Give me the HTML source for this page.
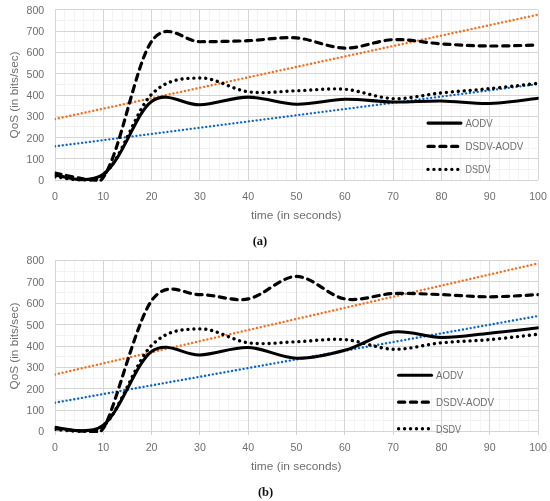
<!DOCTYPE html>
<html><head><meta charset="utf-8"><title>QoS</title>
<style>
html,body{margin:0;padding:0;background:#fff;}
svg{display:block;}
.t{font-family:"Liberation Sans",sans-serif;font-size:10.6px;fill:#6e6e6e;}
.at{font-family:"Liberation Sans",sans-serif;font-size:11.8px;fill:#6e6e6e;}
.cap{font-family:"Liberation Serif",serif;font-size:12.5px;font-weight:bold;fill:#111;}
.g1{stroke:#d6d6d6;stroke-width:1;fill:none;shape-rendering:crispEdges;}
.g2{stroke:#f3f3f3;stroke-width:1;fill:none;shape-rendering:crispEdges;}
.k{stroke:#000;stroke-width:3.4;fill:none;stroke-linecap:round;stroke-linejoin:round;}
</style></head><body>
<svg width="550" height="501" viewBox="0 0 550 501">
<rect width="550" height="501" fill="#fff"/>

<g>
<path class="g2" d="M55.00,169.55H538.00M55.00,148.25H538.00M55.00,126.95H538.00M55.00,105.65H538.00M55.00,84.35H538.00M55.00,63.05H538.00M55.00,41.75H538.00M55.00,20.45H538.00M64.66,180.20V9.80M74.32,180.20V9.80M83.98,180.20V9.80M93.64,180.20V9.80M112.96,180.20V9.80M122.62,180.20V9.80M132.28,180.20V9.80M141.94,180.20V9.80M161.26,180.20V9.80M170.92,180.20V9.80M180.58,180.20V9.80M190.24,180.20V9.80M209.56,180.20V9.80M219.22,180.20V9.80M228.88,180.20V9.80M238.54,180.20V9.80M257.86,180.20V9.80M267.52,180.20V9.80M277.18,180.20V9.80M286.84,180.20V9.80M306.16,180.20V9.80M315.82,180.20V9.80M325.48,180.20V9.80M335.14,180.20V9.80M354.46,180.20V9.80M364.12,180.20V9.80M373.78,180.20V9.80M383.44,180.20V9.80M402.76,180.20V9.80M412.42,180.20V9.80M422.08,180.20V9.80M431.74,180.20V9.80M451.06,180.20V9.80M460.72,180.20V9.80M470.38,180.20V9.80M480.04,180.20V9.80M499.36,180.20V9.80M509.02,180.20V9.80M518.68,180.20V9.80M528.34,180.20V9.80"/>
<path class="g1" d="M55.00,180.20H538.00M55.00,158.90H538.00M55.00,137.60H538.00M55.00,116.30H538.00M55.00,95.00H538.00M55.00,73.70H538.00M55.00,52.40H538.00M55.00,31.10H538.00M55.00,9.80H538.00M55.00,180.20V9.80M103.30,180.20V9.80M151.60,180.20V9.80M199.90,180.20V9.80M248.20,180.20V9.80M296.50,180.20V9.80M344.80,180.20V9.80M393.10,180.20V9.80M441.40,180.20V9.80M489.70,180.20V9.80M538.00,180.20V9.80"/>
<clipPath id="cp0"><rect x="54.80" y="6.80" width="483.90" height="174.90"/></clipPath>
<g clip-path="url(#cp0)">
<line x1="55.00" y1="119.07" x2="538.00" y2="14.70" stroke="#F56E1B" stroke-width="2.4" stroke-dasharray="0.01 3.9" stroke-linecap="round"/>
<line x1="55.00" y1="146.33" x2="538.00" y2="84.14" stroke="#0A66C6" stroke-width="2.4" stroke-dasharray="0.01 3.9" stroke-linecap="round"/>
<path class="k" stroke-dasharray="0.01 5.95" style="stroke-linecap:round" d="M55.00,176.79 C59.83,177.32 75.93,180.27 83.98,179.99 C92.03,179.70 96.86,180.58 103.30,175.09 C121.81,159.29 135.50,110.55 151.60,94.36 C167.70,78.17 183.80,78.39 199.90,77.96 C216.00,77.53 232.10,89.68 248.20,91.81 C264.30,93.94 280.40,91.17 296.50,90.74 C312.60,90.31 328.70,87.94 344.80,89.25 C360.90,90.56 377.00,98.02 393.10,98.62 C409.20,99.22 425.30,94.54 441.40,92.87 C457.50,91.20 473.60,90.21 489.70,88.61 C505.80,87.01 529.95,84.17 538.00,83.29"/>
<path class="k" stroke-dasharray="6.2 5.6" style="stroke-linecap:round;stroke-width:3.2" d="M55.00,173.17 C61.28,174.34 84.62,179.53 92.67,180.20 C100.72,180.87 98.47,183.81 103.30,177.22 C120.20,154.14 135.50,63.90 151.60,41.32 C167.70,18.75 183.80,41.86 199.90,41.75 C216.00,41.64 232.10,41.32 248.20,40.69 C264.30,40.05 280.40,36.67 296.50,37.92 C312.60,39.16 328.70,47.86 344.80,48.14 C360.90,48.42 377.00,40.33 393.10,39.62 C409.20,38.91 425.30,42.81 441.40,43.88 C457.50,44.95 473.60,45.83 489.70,46.01 C505.80,46.19 529.95,45.12 538.00,44.94"/>
<path class="k" style="stroke-width:3.05" d="M55.00,174.88 C59.43,175.69 73.52,179.88 81.56,179.77 C89.61,179.67 96.86,179.13 103.30,174.24 C123.42,158.93 135.50,112.96 151.60,101.39 C167.70,89.82 183.80,105.51 199.90,104.80 C216.00,104.09 232.10,97.24 248.20,97.13 C264.30,97.02 280.40,103.80 296.50,104.16 C312.60,104.51 328.70,99.61 344.80,99.26 C360.90,98.90 377.00,101.74 393.10,102.03 C409.20,102.31 425.30,100.72 441.40,100.96 C457.50,101.21 473.60,103.98 489.70,103.52 C505.80,103.06 529.95,99.08 538.00,98.20"/>
</g>
<text class="t" x="44.2" y="184.20" text-anchor="end">0</text>
<text class="t" x="44.2" y="162.90" text-anchor="end">100</text>
<text class="t" x="44.2" y="141.60" text-anchor="end">200</text>
<text class="t" x="44.2" y="120.30" text-anchor="end">300</text>
<text class="t" x="44.2" y="99.00" text-anchor="end">400</text>
<text class="t" x="44.2" y="77.70" text-anchor="end">500</text>
<text class="t" x="44.2" y="56.40" text-anchor="end">600</text>
<text class="t" x="44.2" y="35.10" text-anchor="end">700</text>
<text class="t" x="44.2" y="13.80" text-anchor="end">800</text>
<text class="t" x="55.00" y="199.70" text-anchor="middle">0</text>
<text class="t" x="103.30" y="199.70" text-anchor="middle">10</text>
<text class="t" x="151.60" y="199.70" text-anchor="middle">20</text>
<text class="t" x="199.90" y="199.70" text-anchor="middle">30</text>
<text class="t" x="248.20" y="199.70" text-anchor="middle">40</text>
<text class="t" x="296.50" y="199.70" text-anchor="middle">50</text>
<text class="t" x="344.80" y="199.70" text-anchor="middle">60</text>
<text class="t" x="393.10" y="199.70" text-anchor="middle">70</text>
<text class="t" x="441.40" y="199.70" text-anchor="middle">80</text>
<text class="t" x="489.70" y="199.70" text-anchor="middle">90</text>
<text class="t" x="538.00" y="199.70" text-anchor="middle">100</text>
<text class="at" x="250.9" y="218.70" textLength="90.6" lengthAdjust="spacingAndGlyphs">time (in seconds)</text>
<text class="at" transform="translate(17.8,95.00) rotate(-90)" x="-43.5" textLength="87" lengthAdjust="spacingAndGlyphs">QoS (in bits/sec)</text>
<line class="k" x1="428.00" x2="461.00" y1="123.10" y2="123.10" style="stroke-width:3.05"/>
<text class="t" x="465.40" y="127.00" textLength="27.3" lengthAdjust="spacingAndGlyphs">AODV</text>
<line class="k" x1="428.00" x2="461.00" y1="146.40" y2="146.40" stroke-dasharray="6.2 5.6" style="stroke-linecap:round;stroke-width:3.2"/>
<text class="t" x="465.40" y="150.30" textLength="58.0" lengthAdjust="spacingAndGlyphs">DSDV-AODV</text>
<line class="k" x1="428.00" x2="461.00" y1="169.40" y2="169.40" stroke-dasharray="0.01 5.95" style="stroke-linecap:round"/>
<text class="t" x="465.40" y="173.30" textLength="25.1" lengthAdjust="spacingAndGlyphs">DSDV</text>
<text class="cap" x="260.00" y="244.50" text-anchor="middle">(a)</text>
</g>
<g>
<path class="g2" d="M55.00,420.90H538.00M55.00,399.50H538.00M55.00,378.10H538.00M55.00,356.70H538.00M55.00,335.30H538.00M55.00,313.90H538.00M55.00,292.50H538.00M55.00,271.10H538.00M64.66,431.60V260.40M74.32,431.60V260.40M83.98,431.60V260.40M93.64,431.60V260.40M112.96,431.60V260.40M122.62,431.60V260.40M132.28,431.60V260.40M141.94,431.60V260.40M161.26,431.60V260.40M170.92,431.60V260.40M180.58,431.60V260.40M190.24,431.60V260.40M209.56,431.60V260.40M219.22,431.60V260.40M228.88,431.60V260.40M238.54,431.60V260.40M257.86,431.60V260.40M267.52,431.60V260.40M277.18,431.60V260.40M286.84,431.60V260.40M306.16,431.60V260.40M315.82,431.60V260.40M325.48,431.60V260.40M335.14,431.60V260.40M354.46,431.60V260.40M364.12,431.60V260.40M373.78,431.60V260.40M383.44,431.60V260.40M402.76,431.60V260.40M412.42,431.60V260.40M422.08,431.60V260.40M431.74,431.60V260.40M451.06,431.60V260.40M460.72,431.60V260.40M470.38,431.60V260.40M480.04,431.60V260.40M499.36,431.60V260.40M509.02,431.60V260.40M518.68,431.60V260.40M528.34,431.60V260.40"/>
<path class="g1" d="M55.00,431.60H538.00M55.00,410.20H538.00M55.00,388.80H538.00M55.00,367.40H538.00M55.00,346.00H538.00M55.00,324.60H538.00M55.00,303.20H538.00M55.00,281.80H538.00M55.00,260.40H538.00M55.00,431.60V260.40M103.30,431.60V260.40M151.60,431.60V260.40M199.90,431.60V260.40M248.20,431.60V260.40M296.50,431.60V260.40M344.80,431.60V260.40M393.10,431.60V260.40M441.40,431.60V260.40M489.70,431.60V260.40M538.00,431.60V260.40M55.00,431.60V435.00M103.30,431.60V435.00M151.60,431.60V435.00M199.90,431.60V435.00M248.20,431.60V435.00M296.50,431.60V435.00M344.80,431.60V435.00M393.10,431.60V435.00M441.40,431.60V435.00M489.70,431.60V435.00M538.00,431.60V435.00"/>
<clipPath id="cp1"><rect x="54.80" y="257.40" width="483.90" height="175.70"/></clipPath>
<g clip-path="url(#cp1)">
<line x1="55.00" y1="374.46" x2="538.00" y2="263.40" stroke="#F56E1B" stroke-width="2.4" stroke-dasharray="0.01 3.9" stroke-linecap="round"/>
<line x1="55.00" y1="402.71" x2="538.00" y2="316.04" stroke="#0A66C6" stroke-width="2.4" stroke-dasharray="0.01 3.9" stroke-linecap="round"/>
<path class="k" stroke-dasharray="0.01 5.95" style="stroke-linecap:round" d="M55.00,429.46 C59.83,429.75 75.93,431.71 83.98,431.17 C92.03,430.64 96.86,431.86 103.30,426.25 C119.40,412.23 135.50,361.59 151.60,345.36 C167.70,329.13 183.80,329.31 199.90,328.88 C216.00,328.45 232.10,340.65 248.20,342.79 C264.30,344.93 280.40,342.26 296.50,341.72 C312.60,341.19 328.70,338.33 344.80,339.58 C360.90,340.83 377.00,348.68 393.10,349.21 C409.20,349.75 425.30,344.40 441.40,342.79 C457.50,341.19 473.60,341.01 489.70,339.58 C505.80,338.15 529.95,335.12 538.00,334.23"/>
<path class="k" stroke-dasharray="6.2 5.6" style="stroke-linecap:round;stroke-width:3.2" d="M55.00,428.60 C61.28,429.10 84.62,431.67 92.67,431.60 C100.72,431.53 98.47,434.57 103.30,428.18 C113.77,414.31 135.50,322.89 151.60,300.63 C167.70,278.38 183.80,294.93 199.90,294.64 C216.00,294.35 232.10,301.95 248.20,298.92 C264.30,295.89 280.40,276.45 296.50,276.45 C312.60,276.45 328.70,296.07 344.80,298.92 C360.90,301.77 377.00,294.28 393.10,293.57 C409.20,292.86 425.30,294.11 441.40,294.64 C457.50,295.17 473.60,296.78 489.70,296.78 C505.80,296.78 529.95,295.00 538.00,294.64"/>
<path class="k" style="stroke-width:3.05" d="M55.00,427.32 C59.43,427.89 73.52,431.10 81.56,430.74 C89.61,430.39 96.86,430.23 103.30,425.18 C121.01,411.29 135.50,363.26 151.60,351.56 C167.70,339.87 183.80,355.67 199.90,354.99 C216.00,354.31 232.10,346.96 248.20,347.50 C264.30,348.03 280.40,357.73 296.50,358.20 C312.60,358.66 328.70,354.63 344.80,350.28 C360.90,345.93 377.00,334.23 393.10,332.09 C409.20,329.95 425.30,337.26 441.40,337.44 C457.50,337.62 473.60,334.77 489.70,333.16 C505.80,331.56 529.95,328.70 538.00,327.81"/>
</g>
<text class="t" x="44.2" y="434.70" text-anchor="end">0</text>
<text class="t" x="44.2" y="414.20" text-anchor="end">100</text>
<text class="t" x="44.2" y="392.80" text-anchor="end">200</text>
<text class="t" x="44.2" y="371.40" text-anchor="end">300</text>
<text class="t" x="44.2" y="350.00" text-anchor="end">400</text>
<text class="t" x="44.2" y="328.60" text-anchor="end">500</text>
<text class="t" x="44.2" y="307.20" text-anchor="end">600</text>
<text class="t" x="44.2" y="285.80" text-anchor="end">700</text>
<text class="t" x="44.2" y="264.40" text-anchor="end">800</text>
<text class="t" x="55.00" y="451.10" text-anchor="middle">0</text>
<text class="t" x="103.30" y="451.10" text-anchor="middle">10</text>
<text class="t" x="151.60" y="451.10" text-anchor="middle">20</text>
<text class="t" x="199.90" y="451.10" text-anchor="middle">30</text>
<text class="t" x="248.20" y="451.10" text-anchor="middle">40</text>
<text class="t" x="296.50" y="451.10" text-anchor="middle">50</text>
<text class="t" x="344.80" y="451.10" text-anchor="middle">60</text>
<text class="t" x="393.10" y="451.10" text-anchor="middle">70</text>
<text class="t" x="441.40" y="451.10" text-anchor="middle">80</text>
<text class="t" x="489.70" y="451.10" text-anchor="middle">90</text>
<text class="t" x="538.00" y="451.10" text-anchor="middle">100</text>
<text class="at" x="250.9" y="470.10" textLength="90.6" lengthAdjust="spacingAndGlyphs">time (in seconds)</text>
<text class="at" transform="translate(17.8,346.00) rotate(-90)" x="-43.5" textLength="87" lengthAdjust="spacingAndGlyphs">QoS (in bits/sec)</text>
<line class="k" x1="398.60" x2="431.60" y1="375.20" y2="375.20" style="stroke-width:3.05"/>
<text class="t" x="436.00" y="379.10" textLength="27.3" lengthAdjust="spacingAndGlyphs">AODV</text>
<line class="k" x1="398.60" x2="431.60" y1="402.20" y2="402.20" stroke-dasharray="6.2 5.6" style="stroke-linecap:round;stroke-width:3.2"/>
<text class="t" x="436.00" y="406.10" textLength="58.0" lengthAdjust="spacingAndGlyphs">DSDV-AODV</text>
<line class="k" x1="398.60" x2="431.60" y1="428.80" y2="428.80" stroke-dasharray="0.01 5.95" style="stroke-linecap:round"/>
<text class="t" x="436.00" y="432.70" textLength="25.1" lengthAdjust="spacingAndGlyphs">DSDV</text>
<text class="cap" x="265.60" y="495.50" text-anchor="middle">(b)</text>
</g>
</svg></body></html>
